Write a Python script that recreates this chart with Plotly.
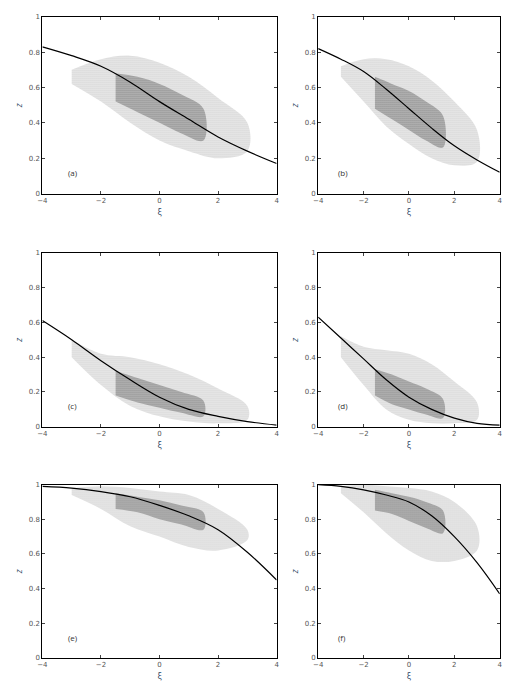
import plotly.graph_objects as go

xi_curve = [-4, -3, -2, -1, 0, 1, 2, 3, 4]
curves = {
    "a": [0.83, 0.78, 0.72, 0.63, 0.52, 0.42, 0.32, 0.24, 0.17],
    "b": [0.82, 0.76, 0.69, 0.59, 0.48, 0.37, 0.27, 0.19, 0.12],
    "c": [0.61, 0.50, 0.38, 0.27, 0.17, 0.10, 0.06, 0.03, 0.01],
    "d": [0.63, 0.51, 0.39, 0.27, 0.17, 0.10, 0.05, 0.02, 0.01],
    "e": [0.99, 0.98, 0.96, 0.93, 0.88, 0.82, 0.74, 0.61, 0.45],
    "f": [1.00, 0.99, 0.97, 0.94, 0.90, 0.82, 0.70, 0.55, 0.37],
}
# cloud bands: x positions, upper and lower z edges
cloud_x = [-3, -2, -1, 0, 1, 2, 3]
outer_up = {
    "a": [0.70, 0.76, 0.78, 0.74, 0.66, 0.54, 0.40],
    "b": [0.72, 0.76, 0.76, 0.72, 0.64, 0.52, 0.36],
    "c": [0.50, 0.42, 0.40, 0.36, 0.30, 0.22, 0.12],
    "d": [0.52, 0.46, 0.44, 0.42, 0.36, 0.26, 0.14],
    "e": [0.98, 0.99, 0.98, 0.96, 0.94, 0.86, 0.74],
    "f": [0.99, 1.00, 0.99, 0.98, 0.96, 0.90, 0.76],
}
outer_lo = {
    "a": [0.62, 0.52, 0.40, 0.30, 0.24, 0.20, 0.24],
    "b": [0.66, 0.52, 0.38, 0.28, 0.20, 0.16, 0.18],
    "c": [0.40, 0.24, 0.12, 0.06, 0.03, 0.02, 0.04],
    "d": [0.40, 0.24, 0.10, 0.04, 0.02, 0.02, 0.04],
    "e": [0.94, 0.86, 0.76, 0.70, 0.64, 0.62, 0.68],
    "f": [0.95, 0.84, 0.72, 0.62, 0.56, 0.56, 0.62],
}
inner_x = [-1.5, -0.75, 0, 0.75, 1.5]
inner_up = {
    "a": [0.68, 0.66, 0.62, 0.56, 0.48],
    "b": [0.66, 0.62, 0.58, 0.52, 0.44],
    "c": [0.32, 0.28, 0.24, 0.20, 0.15],
    "d": [0.33, 0.30, 0.26, 0.22, 0.16],
    "e": [0.95, 0.93, 0.91, 0.88, 0.84],
    "f": [0.97, 0.95, 0.93, 0.90, 0.85],
}
inner_lo = {
    "a": [0.52, 0.46, 0.40, 0.34, 0.30],
    "b": [0.48, 0.42, 0.36, 0.30, 0.26],
    "c": [0.18, 0.14, 0.11, 0.08, 0.06],
    "d": [0.18, 0.13, 0.10, 0.07, 0.05],
    "e": [0.86, 0.84, 0.80, 0.77, 0.74],
    "f": [0.85, 0.83, 0.79, 0.75, 0.72],
}
labels = ["a", "b", "c", "d", "e", "f"]
xdoms = [[0.058, 0.52], [0.602, 0.96]]
ydoms = [[0.733, 0.993], [0.39, 0.646], [0.05, 0.305]]

fig = go.Figure()
layout = {}
for i, k in enumerate(labels):
    r, c = divmod(i, 2)
    n = i + 1
    xa, ya = ("x" if n == 1 else f"x{n}"), ("y" if n == 1 else f"y{n}")
    for xs, up, lo, sol in [(cloud_x, outer_up[k], outer_lo[k], 0.3),
                            (inner_x, inner_up[k], inner_lo[k], 0.6)]:
        fig.add_trace(go.Scatter(
            x=xs + xs[::-1], y=up + lo[::-1], xaxis=xa, yaxis=ya,
            mode="lines", line=dict(width=0, shape="spline"), fill="toself",
            fillcolor="rgba(0,0,0,0)",
            fillpattern=dict(shape=".", size=2, solidity=sol, fgcolor="black", bgcolor="rgba(0,0,0,0)"),
            hoverinfo="skip", showlegend=False))
    fig.add_trace(go.Scatter(x=xi_curve, y=curves[k], xaxis=xa, yaxis=ya, mode="lines",
                             line=dict(color="black", width=1.2, shape="spline"), showlegend=False))
    fig.add_annotation(x=-3.2, y=0.12, xref=xa, yref=ya, text=f"({k})", showarrow=False,
                       xanchor="left", font=dict(size=8, color="#333"))
    common = dict(showline=True, linecolor="black", linewidth=1, mirror="ticks", ticks="inside",
                  ticklen=3, showgrid=False, zeroline=False,
                  tickfont=dict(size=7, color="#555", family="DejaVu Sans"))
    layout[f"xaxis{n if n > 1 else ''}"] = dict(domain=xdoms[c], range=[-4, 4], anchor=ya,
        tickvals=[-4, -2, 0, 2, 4], title=dict(text="ξ", font=dict(size=9), standoff=2), **common)
    layout[f"yaxis{n if n > 1 else ''}"] = dict(domain=ydoms[r], range=[0, 1], anchor=xa,
        tickvals=[0, 0.2, 0.4, 0.6, 0.8, 1], ticktext=["0", "0.2", "0.4", "0.6", "0.8", "1"],
        title=dict(text="<i>z</i>", font=dict(size=9), standoff=4), **common)

fig.update_layout(width=515, height=688, margin=dict(l=0, r=0, t=0, b=0),
                  plot_bgcolor="white", paper_bgcolor="white", **layout)
fig.write_html("out.html")
